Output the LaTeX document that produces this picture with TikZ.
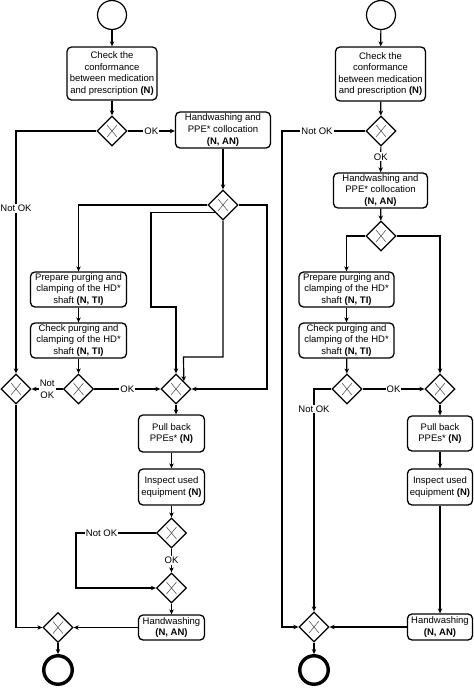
\documentclass[tikz,border=0pt]{standalone}
\usepackage{fontspec}
\setmainfont{Liberation Sans}
\usepackage{tikz}
\usetikzlibrary{shapes.geometric, arrows.meta}

\begin{document}
\begin{tikzpicture}[x=1pt, y=-1pt,
    every node/.style={font=\fontsize{9.5}{11.6}\selectfont},
    task/.style={draw, line width=1.3pt, rounded corners=4.5pt, align=center, inner sep=1pt},
    gate/.style={draw, diamond, line width=1.3pt, minimum width=30pt, minimum height=30pt, inner sep=0pt,
        path picture={\draw[line width=0.5pt, black!75]
            ([shift={(-5pt,-6pt)}]path picture bounding box.center) -- ([shift={(5pt,6pt)}]path picture bounding box.center)
            ([shift={(-5pt,6pt)}]path picture bounding box.center) -- ([shift={(5pt,-6pt)}]path picture bounding box.center);}},
    startev/.style={draw, circle, line width=1.2pt, minimum size=29pt},
    endev/.style={draw, circle, line width=3.4pt, minimum size=28.5pt},
    flow/.style={line width=1.2pt, -{Stealth[length=5pt, width=4.5pt]}},
    lbl/.style={fill=white, inner sep=1pt}]
    \useasboundingbox (0,0) rectangle (474,699);

    \node[startev] (s) at (112,15) {};
    \node[task, minimum width=90pt, minimum height=53pt] (conf) at (112,73.5) {Check the\\conformance\\between medication\\and prescription \textbf{(N)}};
    \node[gate] (g1) at (112,131) {};
    \node[task, minimum width=95pt, minimum height=36pt] (ppe) at (223,130) {Handwashing and\\PPE* collocation\\\textbf{(N, AN)}};
    \node[gate] (g2) at (223,205) {};
    \node[task, minimum width=96pt, minimum height=35pt] (prep) at (78.5,289.5) {Prepare purging and\\clamping of the HD*\\shaft \textbf{(N, TI)}};
    \node[task, minimum width=96pt, minimum height=35pt] (chk) at (78.5,340.5) {Check purging and\\clamping of the HD*\\shaft \textbf{(N, TI)}};
    \node[gate] (g3) at (78.5,389) {};
    \node[gate] (gl) at (16,389) {};
    \node[gate] (gm) at (176,389) {};
    \node[task, minimum width=66pt, minimum height=37pt] (pull) at (171.5,433.5) {Pull back\\PPEs* \textbf{(N)}};
    \node[task, minimum width=66pt, minimum height=36pt] (insp) at (171.5,487) {Inspect used\\equipment \textbf{(N)}};
    \node[gate] (g4) at (171.5,533) {};
    \node[gate] (g5) at (171.5,588) {};
    \node[task, minimum width=66pt, minimum height=25pt] (wash) at (171.5,627.5) {Handwashing\\\textbf{(N, AN)}};
    \node[gate] (ge) at (58,627.5) {};
    \node[endev] (e) at (58,670) {};

    \draw[flow] (s) -- (conf);
    \draw[flow] (conf) -- (g1);
    \draw[flow] (g1.east) -- node[lbl] {OK} (g1.east -| ppe.west);
    \draw[flow] (g1.west) -| node[lbl, pos=0.66] {Not OK} (gl.north);
    \draw[flow] (ppe) -- (g2);
    \draw[flow] (g2.west) -| (prep.north);
    \draw[flow] (g2.south west) -| (151,307) -| (gm.north);
    \draw[flow] (g2.south) |- (183.5,357) -- (gm.north east);
    \draw[flow] (g2.east) -| (267,389) -- (gm.east);
    \draw[flow] (prep) -- (chk);
    \draw[flow] (chk) -- (g3);
    \draw[flow] (g3.west) -- node[lbl, align=center] {Not\\OK} (gl.east);
    \draw[flow] (g3.east) -- node[lbl] {OK} (gm.west);
    \draw[flow] (gm.south) -- (gm.south |- pull.north);
    \draw[flow] (pull) -- (insp);
    \draw[flow] (insp) -- (g4);
    \draw[flow] (g4) -- node[lbl] {OK} (g5);
    \draw[flow] (g4.west) -- node[lbl, pos=0.68] {Not OK} (76,533) |- (g5.west);
    \draw[flow] (g5) -- (wash);
    \draw[flow] (wash) -- (ge);
    \draw[flow] (gl.south) |- (ge.west);
    \draw[flow] (ge) -- (e);

    \node[startev] (rs) at (381,15) {};
    \node[task, minimum width=90pt, minimum height=54pt] (rconf) at (380.5,74) {Check the\\conformance\\between medication\\and prescription \textbf{(N)}};
    \node[gate] (rg1) at (381,131) {};
    \node[task, minimum width=94pt, minimum height=35pt] (rppe) at (380.5,190.5) {Handwashing and\\PPE* collocation\\\textbf{(N, AN)}};
    \node[gate] (rg2) at (381,236) {};
    \node[task, minimum width=95pt, minimum height=35pt] (rprep) at (346.5,289.5) {Prepare purging and\\clamping of the HD*\\shaft \textbf{(N, TI)}};
    \node[task, minimum width=95pt, minimum height=35pt] (rchk) at (346.5,340.5) {Check purging and\\clamping of the HD*\\shaft \textbf{(N, TI)}};
    \node[gate] (rg3) at (347,389) {};
    \node[gate] (rgm) at (440,389) {};
    \node[task, minimum width=65pt, minimum height=35pt] (rpull) at (440,433.5) {Pull back\\PPEs* \textbf{(N)}};
    \node[task, minimum width=65pt, minimum height=36pt] (rinsp) at (440,487) {Inspect used\\equipment \textbf{(N)}};
    \node[task, minimum width=65pt, minimum height=26pt] (rwash) at (440,627) {Handwashing\\\textbf{(N, AN)}};
    \node[gate] (rge) at (314,627) {};
    \node[endev] (re) at (314,670) {};

    \draw[flow] (rs) -- (rconf);
    \draw[flow] (rconf) -- (rg1);
    \draw[flow] (rg1) -- node[lbl, pos=0.4] {OK} (rppe);
    \draw[flow] (rg1.west) -- node[lbl, pos=0.58] {Not OK} (282,131) |- (rge.west);
    \draw[flow] (rppe) -- (rg2);
    \draw[flow] (rg2.west) -| (rprep.north);
    \draw[flow] (rg2.east) -| (rgm.north);
    \draw[flow] (rprep) -- (rchk);
    \draw[flow] (rchk) -- (rg3);
    \draw[flow] (rg3.east) -- node[lbl] {OK} (rgm.west);
    \draw[flow] (rg3.west) -| node[lbl, pos=0.545] {Not OK} (rge.north);
    \draw[flow] (rgm) -- (rpull);
    \draw[flow] (rpull) -- (rinsp);
    \draw[flow] (rinsp) -- (rwash);
    \draw[flow] (rwash) -- (rge);
    \draw[flow] (rge) -- (re);
\end{tikzpicture}
\end{document}
